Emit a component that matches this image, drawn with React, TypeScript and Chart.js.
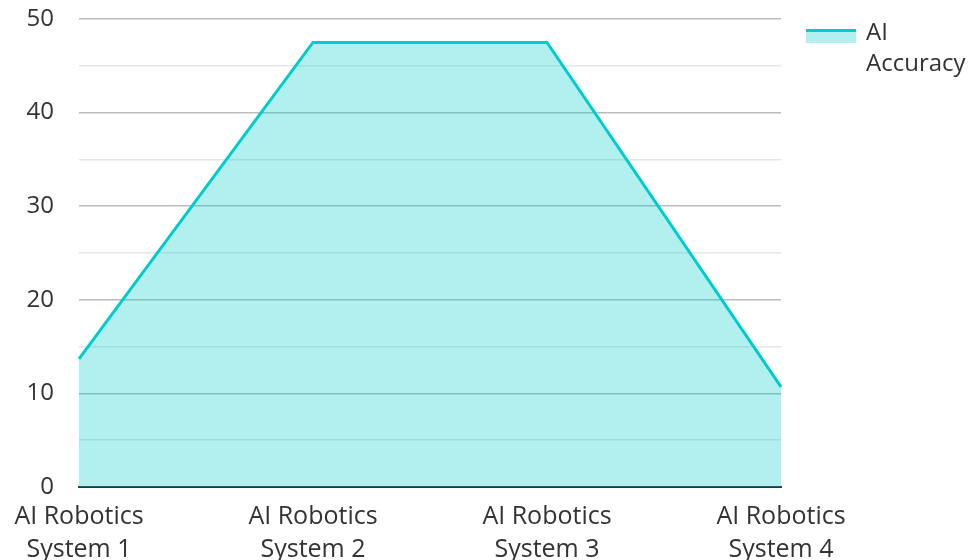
import React, { useEffect, useRef } from "react";
import { Chart, registerables } from "chart.js";

Chart.register(...registerables);

const categories: string[][] = [
  ["AI Robotics", "System 1"],
  ["AI Robotics", "System 2"],
  ["AI Robotics", "System 3"],
  ["AI Robotics", "System 4"],
];
const accuracy: number[] = [13.7, 47.5, 47.5, 10.7];
const seriesName = "AI Accuracy";
const legendLines: string[] = ["AI", "Accuracy"];

const FONT = "'Open Sans', 'Noto Sans', sans-serif";
const LINE = "rgb(0,204,204)";
const FILL = "rgba(0,204,204,0.3)";

const legendPlugin = {
  id: "customLegend",
  afterDraw(chart: any) {
    const ctx = chart.ctx;
    const x0 = chart.chartArea.right + 25;
    const y0 = 29;
    ctx.save();
    ctx.fillStyle = FILL;
    ctx.fillRect(x0, y0, 50, 14);
    ctx.strokeStyle = LINE;
    ctx.lineWidth = 3;
    ctx.beginPath();
    ctx.moveTo(x0, y0 + 1.5);
    ctx.lineTo(x0 + 50, y0 + 1.5);
    ctx.stroke();
    ctx.fillStyle = "#333";
    ctx.font = `24px ${FONT}`;
    ctx.textBaseline = "alphabetic";
    ctx.textAlign = "left";
    legendLines.forEach((t, i) => {
      ctx.fillText(t, x0 + 60, 40 + i * 31);
    });
    ctx.restore();
  },
};

export default function App() {
  const ref = useRef<HTMLCanvasElement>(null);
  useEffect(() => {
    if (!ref.current) return;
    const chart = new Chart(ref.current, {
      type: "line",
      data: {
        labels: categories,
        datasets: [
          {
            label: seriesName,
            data: accuracy,
            borderColor: LINE,
            backgroundColor: FILL,
            borderWidth: 3,
            fill: "origin",
            pointRadius: 0,
            tension: 0,
          },
        ],
      },
      options: {
        animation: false,
        responsive: false,
        layout: { padding: { left: 0, right: 190, top: 19, bottom: 0 } },
        plugins: {
          legend: { display: false },
          tooltip: { enabled: false },
        },
        scales: {
          x: {
            offset: false,
            grid: { display: false, drawTicks: false },
            border: { display: true, color: "#333", width: 2 },
            ticks: {
              color: "#333",
              font: { family: FONT, size: 25, lineHeight: 1.32 },
              padding: 13,
              maxRotation: 0,
              autoSkip: false,
            },
            afterFit: (s: any) => {
              s.height = 73;
              s.paddingLeft = 0;
              s.paddingRight = 0;
            },
          },
          y: {
            min: 0,
            max: 50,
            border: { display: false },
            grid: {
              drawTicks: false,
              color: (c: any) =>
                c.tick && c.tick.value % 10 === 0 ? "#bbbbbb" : "#e6e6e6",
              lineWidth: 1.5,
            },
            ticks: {
              stepSize: 5,
              color: "#333",
              font: { family: FONT, size: 24 },
              padding: 25,
              callback: (v: any) => (Number(v) % 10 === 0 ? String(v) : ""),
            },
            afterFit: (s: any) => {
              s.width = 79;
              s.paddingTop = 0;
              s.paddingBottom = 0;
            },
          },
        },
      },
      plugins: [legendPlugin],
    });
    return () => chart.destroy();
  }, []);
  return (
    <div style={{ position: "fixed", left: 0, top: 0, width: 971, height: 560 }}>
      <canvas ref={ref} width={971} height={560} style={{ width: 971, height: 560 }} />
    </div>
  );
}
